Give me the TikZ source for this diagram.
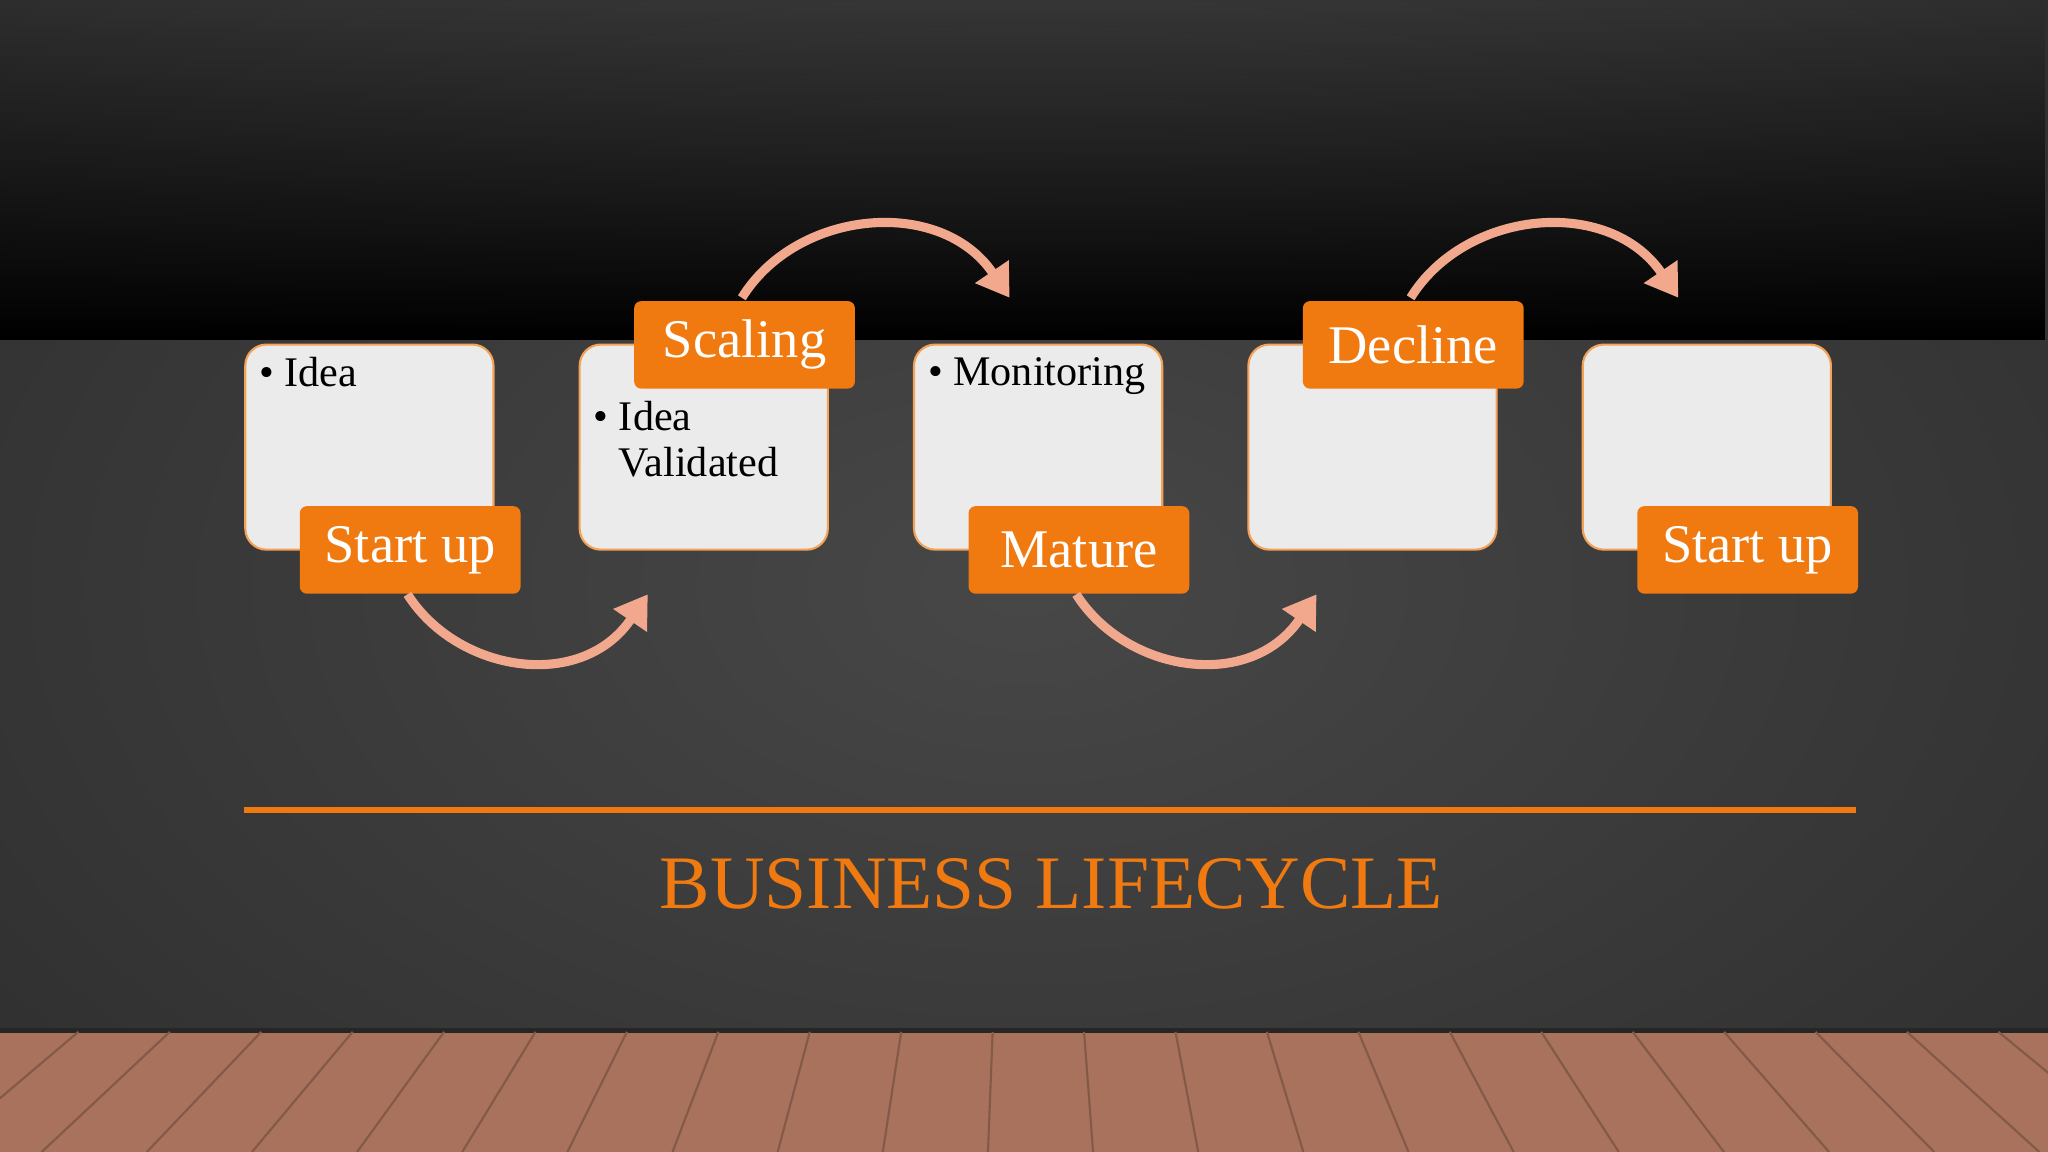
\documentclass[tikz,border=0pt]{standalone}
\usepackage{fontspec}
\setmainfont{Liberation Serif}
\usetikzlibrary{arrows.meta,shadings,fadings}
\definecolor{org}{HTML}{F07A10}
\definecolor{arc}{HTML}{F2A88C}
\definecolor{wood}{HTML}{A8725C}
\begin{document}
\begin{tikzpicture}[x=0.01306cm,y=-0.01306cm,
  card/.style={draw=org!70,line width=0.6pt,fill=white!92!black,rounded corners=6pt,minimum width=190*0.01306cm,minimum height=157*0.01306cm,inner sep=0pt,anchor=north west},
  tag/.style={fill=org,rounded corners=2pt,minimum width=169*0.01306cm,minimum height=67*0.01306cm,inner sep=0pt,anchor=north west,text=white,font=\fontsize{15.5}{16}\selectfont},
  btxt/.style={anchor=north west,align=left,font=\fontsize{12}{13}\selectfont,text=black,inner sep=0pt},
  flow/.style={draw=arc,line width=2.6pt,-{Triangle[length=9pt,width=11pt]}}]
\useasboundingbox (0,0) rectangle (1568,882);
\fill[black!80] (0,0) rectangle (1568,790);
\shade[inner color=black!72,outer color=black!82] (-300,-200) rectangle (1868,1100);
\fill[black,path fading=north] (0,0) rectangle (1568,260);
\fill[wood] (0,788) rectangle (1568,882);
\draw[black!85,line width=1.5pt] (0,789) -- (1568,789);
\foreach \i in {-2,...,23}{\draw[black!22!wood,line width=0.6pt] (\i*70-10,790) -- ({784+(\i*70-10-784)*1.15},882);}
\node[inner sep=0pt] (c0) at (784,0) {};
% cards
\node[card] (c1) at (187,263) {};
\node[card] (c2) at (443,263) {};
\node[card] (c3) at (699,263) {};
\node[card] (c4) at (955,263) {};
\node[card] (c5) at (1211,263) {};
\node[btxt] (b1) at (198,273) {\textbullet\ Idea};
\node[btxt] (b2) at (454,307) {\textbullet\ Idea\\\phantom{\textbullet\ }Validated};
\node[btxt] (b3) at (710,273) {\textbullet\ Monitoring};
% tags
\node[tag] (t1) at (229,387) {Start up};
\node[tag] (t2) at (485,230) {Scaling};
\node[tag] (t3) at (741,387) {Mature};
\node[tag] (t4) at (997,230) {Decline};
\node[tag] (t5) at (1253,387) {Start up};
% arrows
\coordinate (e1) at (496,455); \coordinate (e2) at (773,228);
\coordinate (e3) at (1008,455); \coordinate (e4) at (1285,228);
\draw[flow] (312,455) .. controls (350,515) and (445,530) .. (e1);
\draw[flow] (568,228) .. controls (610,160) and (720,150) .. (e2);
\draw[flow] (824,455) .. controls (862,515) and (957,530) .. (e3);
\draw[flow] (1080,228) .. controls (1122,160) and (1232,150) .. (e4);
% title
\draw[org,line width=1.6pt] (187,620) -- (1421,620);
\node[text=org,font=\fontsize{21.5}{22}\selectfont] (title) at (805,677) {BUSINESS LIFECYCLE};
\end{tikzpicture}
\end{document}
